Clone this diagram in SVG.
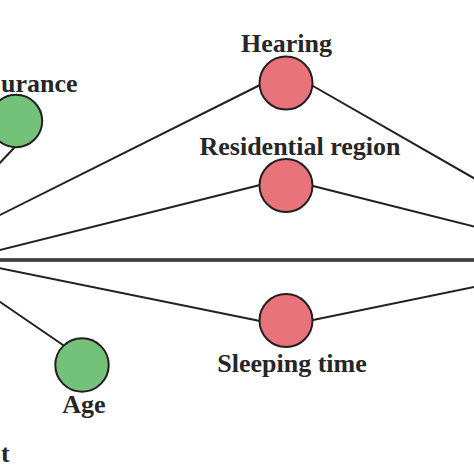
<svg xmlns="http://www.w3.org/2000/svg" width="474" height="474" viewBox="0 0 474 474">
  <style>
    .edge { stroke: #231f20; stroke-width: 2; fill: none; stroke-linecap: round; }
    .node { stroke: #231f20; stroke-width: 2; }
    .red { fill: #e8737a; }
    .green { fill: #74c27a; }
    .label { font-family: "Liberation Serif", "Times New Roman", serif; font-weight: bold; font-size: 26px; fill: #262626; }
  </style>
  <rect width="474" height="474" fill="#ffffff"/>
  <g id="connectors">
    <line class="edge" x1="-10" y1="220" x2="260" y2="85"/>
    <line class="edge" x1="-10" y1="252.5" x2="260" y2="185"/>
    <line x1="-10" y1="260" x2="484" y2="260" stroke="#231f20" stroke-width="3.4"/>
    <line x1="-10" y1="260" x2="484" y2="260" stroke="#6a6a6a" stroke-width="0.9"/>
    <line class="edge" x1="-10" y1="266.2" x2="260" y2="321"/>
    <line class="edge" x1="-10" y1="295" x2="63" y2="345"/>
    <line class="edge" x1="-5" y1="168" x2="14" y2="148"/>
    <line class="edge" x1="313" y1="86" x2="484" y2="184"/>
    <line class="edge" x1="313" y1="186" x2="484" y2="229"/>
    <line class="edge" x1="313" y1="320" x2="484" y2="285"/>
  </g>
  <g id="node-hearing">
    <circle class="node red" cx="286" cy="83" r="26.5"/>
    <text class="label" x="286.5" y="52" text-anchor="middle">Hearing</text>
  </g>
  <g id="node-residential">
    <circle class="node red" cx="286" cy="185.5" r="26.5"/>
    <text class="label" x="300" y="155" text-anchor="middle">Residential region</text>
  </g>
  <g id="node-sleeping">
    <circle class="node red" cx="286" cy="320.5" r="26.5"/>
    <text class="label" x="292" y="372" text-anchor="middle">Sleeping time</text>
  </g>
  <g id="node-insurance">
    <circle class="node green" cx="16" cy="121" r="26.2"/>
    <text class="label" x="1" y="92">urance</text>
  </g>
  <g id="node-age">
    <circle class="node green" cx="82" cy="365" r="26.7"/>
    <text class="label" x="84" y="413" text-anchor="middle">Age</text>
  </g>
  <g id="label-t">
    <text class="label" x="1" y="462">t</text>
  </g>
</svg>
